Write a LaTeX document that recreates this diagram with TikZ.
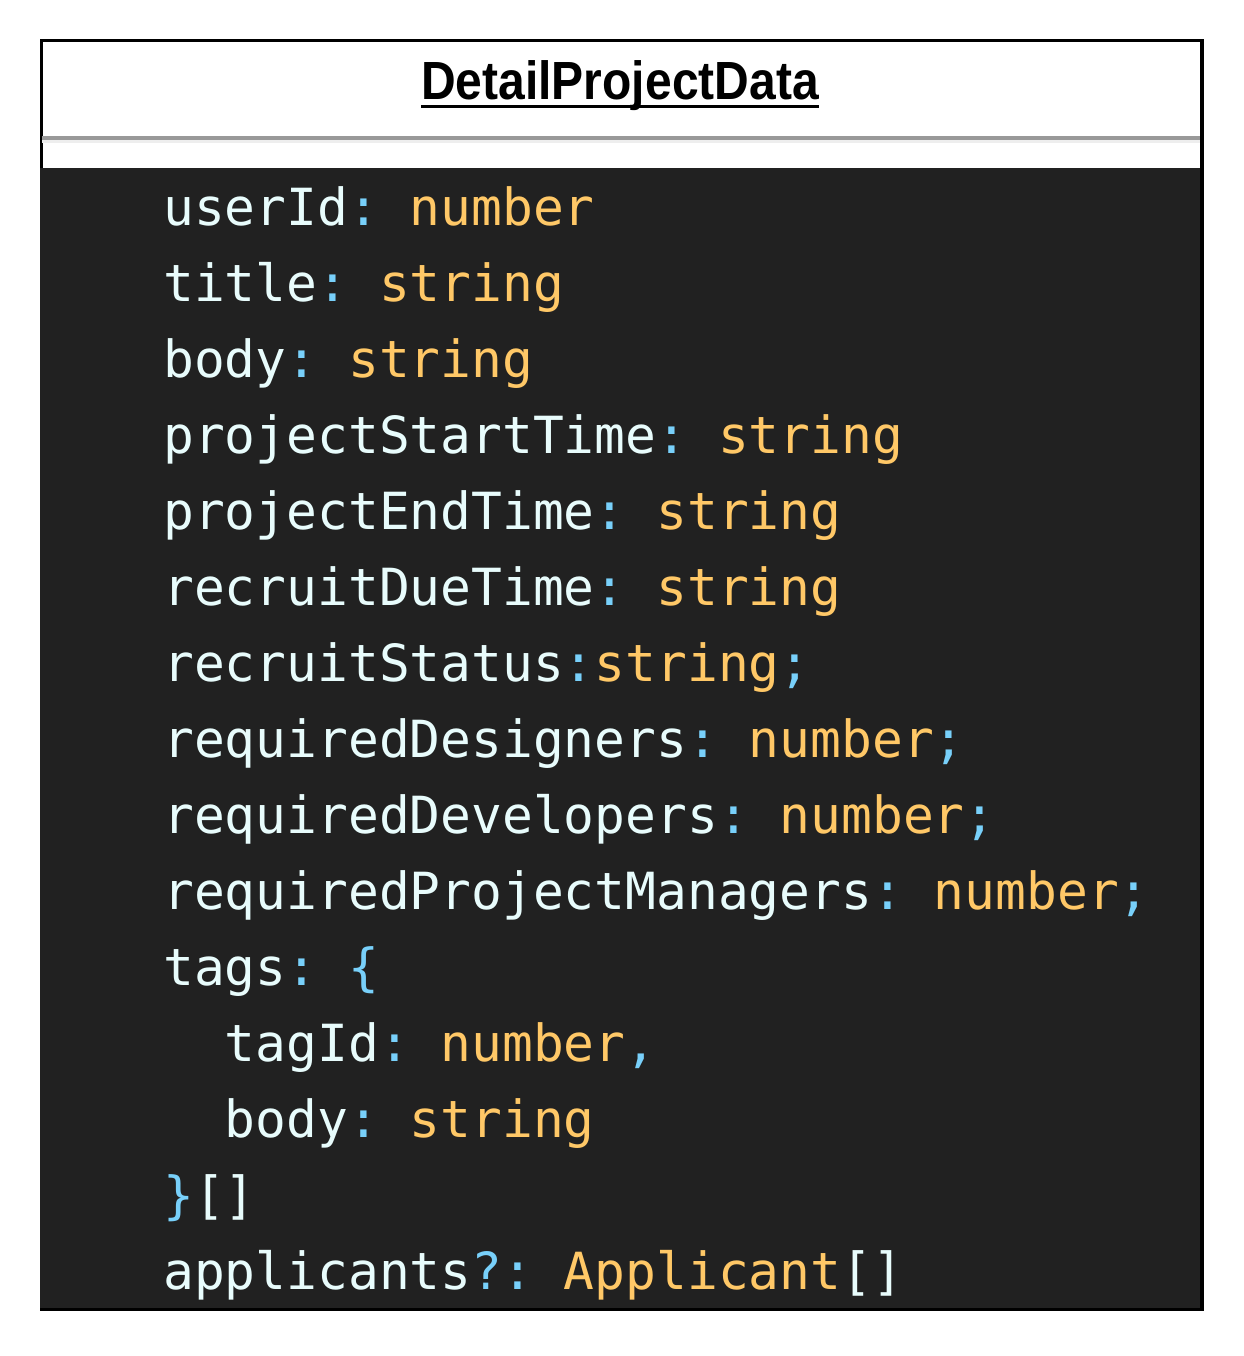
\documentclass[tikz,border=0pt]{standalone}
\usepackage{fontspec}
\setmainfont{Liberation Sans}
\setmonofont{DejaVu Sans Mono}
\definecolor{panelbg}{HTML}{212121}
\definecolor{idcol}{HTML}{E8FCFC}
\definecolor{pncol}{HTML}{78D0FA}
\definecolor{tycol}{HTML}{FFC867}
\definecolor{sepgray}{HTML}{999999}
\definecolor{seplight}{HTML}{EEEEEE}
\newcommand{\pn}[1]{\textcolor{pncol}{#1}}
\newcommand{\ty}[1]{\textcolor{tycol}{#1}}
\begin{document}
\begin{tikzpicture}[x=0.75pt,y=-0.75pt,line join=miter]
	\tikzset{codeline/.style={anchor=base west,inner sep=0pt,text=idcol,font=\fontsize{38.4pt}{40pt}\selectfont\ttfamily}}
	\useasboundingbox (0,0) rectangle (1244,1356);
	\fill[white] (41.5,40.7) rectangle (1202,1309.5);
	\draw[line width=2.6pt] (41.5,40.7) rectangle (1202,1309.5);
	% separator under the title
	\draw[line width=3pt,sepgray] (42,138) -- (1200,138);
	\draw[line width=2.25pt,seplight] (42,141.5) -- (1200,141.5);
	\fill[panelbg] (40,168) rectangle (1200,1307.7);
	\node[anchor=base,inner sep=0pt,font=\fontsize{36pt}{40pt}\selectfont\bfseries] (title) at (620,99) {\scalebox{1}[1.12]{DetailProjectData}};
	\draw[line width=2.3pt] ([yshift=-5.6pt]title.base west) -- ([yshift=-5.6pt]title.base east);
	\foreach \txt [count=\i] in {
		{userId\pn{:} \ty{number}},
		{title\pn{:} \ty{string}},
		{body\pn{:} \ty{string}},
		{projectStartTime\pn{:} \ty{string}},
		{projectEndTime\pn{:} \ty{string}},
		{recruitDueTime\pn{:} \ty{string}},
		{recruitStatus\pn{:}\ty{string}\pn{;}},
		{requiredDesigners\pn{:} \ty{number}\pn{;}},
		{requiredDevelopers\pn{:} \ty{number}\pn{;}},
		{requiredProjectManagers\pn{:} \ty{number}\pn{;}},
		{tags\pn{:} \pn{\{}},
		{\phantom{xx}tagId\pn{:} \ty{number}\pn{,}},
		{\phantom{xx}body\pn{:} \ty{string}},
		{\pn{\}}[]},
		{applicants\pn{?:} \ty{Applicant}[]}}
	\node[codeline] (line\i) at (163,{225+(\i-1)*76}) {\txt};
\end{tikzpicture}
\end{document}
